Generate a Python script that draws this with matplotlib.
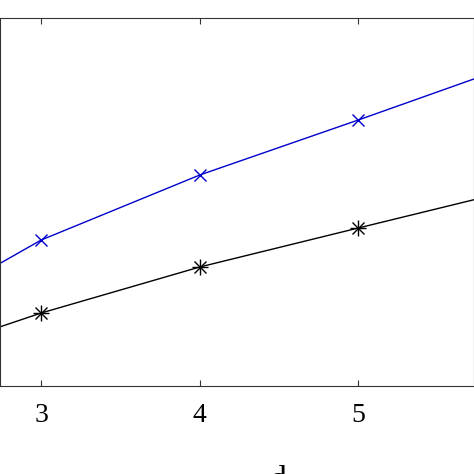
import matplotlib
matplotlib.use("Agg")
import matplotlib.pyplot as plt
import numpy as np

d = [2.7, 3, 4, 5, 5.8]
blue = [119, 146, 211, 266, 311]
black = [57, 73, 119, 158, 189]

plt.rcParams['font.family'] = ['Liberation Serif', 'DejaVu Serif']
fig = plt.figure(figsize=(4.74, 4.74), dpi=100)
ax = fig.add_axes([0.0, 1 - 386/474, 1.0, (386 - 18)/474])
ax.plot(d, blue, color='#0000cc', lw=1, marker='x', ms=8, mew=1, markevery=[1, 2, 3])
ax.plot(d, black, color='black', lw=1, marker='+', ms=11, mew=1, markevery=[1, 2, 3])
ax.plot(d, black, color='black', lw=0, marker='x', ms=8, mew=1, markevery=[1, 2, 3])
ax.set_xlim(2.74, 5.73)
ax.set_ylim(0, 368)
ax.set_xticks([3, 4, 5])
ax.set_yticks([])
for s in ax.spines.values():
    s.set_color('#333333')
ax.tick_params(axis='x', direction='in', top=True, labelsize=20, length=4, pad=12, color='#333333')
ax.set_xlabel('d', fontsize=24, labelpad=2)
ax.xaxis.set_label_coords(278/474, -0.215)
fig.savefig('out.png', dpi=100)
